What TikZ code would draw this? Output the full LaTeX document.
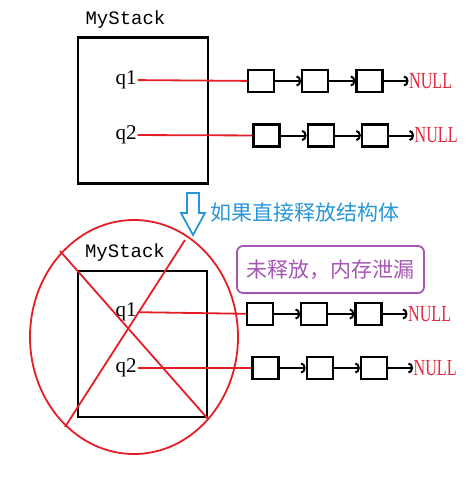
\documentclass[tikz,border=0pt]{standalone}
\usepackage{fontspec}
\setmainfont{Liberation Serif}
\newfontfamily\cjk{Noto Sans CJK SC}
\newfontfamily\stackfont{Liberation Mono}
\newfontfamily\narrowserif[FakeStretch=0.7]{Liberation Serif}
\usetikzlibrary{positioning,arrows.meta}

\definecolor{ptrred}{RGB}{228,30,38}
\definecolor{nullred}{RGB}{226,40,60}
\definecolor{tipblue}{RGB}{40,150,215}
\definecolor{leakpurple}{RGB}{165,85,180}

\begin{document}
\begin{tikzpicture}[
  x=1pt, y=-1pt,
  cell/.style={rectangle, draw, line width=2.2pt, minimum width=26pt, minimum height=22pt, inner sep=0pt},
  stackbox/.style={rectangle, draw, line width=2.4pt, minimum width=130pt, minimum height=146pt},
  title/.style={font=\stackfont\fontsize{19}{19}\selectfont, inner sep=0pt},
  field/.style={font=\fontsize{21}{21}\selectfont, inner sep=1pt},
  nullnode/.style={font=\narrowserif\fontsize{23}{23}\selectfont, text=nullred, inner sep=0.5pt},
  ptr/.style={draw=ptrred, line width=1.8pt},
  link/.style={-{Arc Barb[length=4.5pt,width=11pt]}, line width=2pt},
  node distance=26pt
]
\useasboundingbox (0,0) rectangle (474,480);

% Before: the struct
\node[stackbox] (top) at (143,110.5) {};
\node[title] (toptitle) at (125.5,20) {MyStack};
\node[field] (tq1) at (126,80) {q1};
\node[field] (tq2) at (126,135) {q2};

\node[cell] (a1) at (261,81) {};
\node[cell, right=of a1] (a2) {};
\node[cell, right=of a2] (a3) {};
\node[nullnode, right=25pt of a3] (anull) {NULL};

\node[cell] (b1) at (266.5,135.5) {};
\node[cell, right=of b1] (b2) {};
\node[cell, right=of b2] (b3) {};
\node[nullnode, right=25pt of b3] (bnull) {NULL};

% Pointers
\draw[ptr] (tq1) -- (a1);
\draw[ptr] (tq2) -- (b1);
\draw[link] (a1) -- (a2);
\draw[link] (a2) -- (a3);
\draw[link] (a3) -- (anull);
\draw[link] (b1) -- (b2);
\draw[link] (b2) -- (b3);
\draw[link] (b3) -- (bnull);

% Hollow arrow
\draw[tipblue, line width=1.8pt, line join=miter]
  (187,193) -- (199,193) -- (199,213) -- (205,213) -- (193,235) -- (181,213) -- (187,213) -- cycle;
\node[anchor=west, text=tipblue, font=\cjk\fontsize{21}{21}\selectfont, inner sep=0pt] (why) at (210,213) {如果直接释放结构体};

% After: the struct is freed
\node[stackbox, minimum width=129pt] (bot) at (142.5,344) {};
\node[title] (bottitle) at (125,253) {MyStack};
\node[field] (bq1) at (126,312) {q1};
\node[field] (bq2) at (126,368) {q2};

\node[cell] (c1) at (260,314) {};
\node[cell, right=of c1] (c2) {};
\node[cell, right=of c2] (c3) {};
\node[nullnode, right=25pt of c3] (cnull) {NULL};

\node[cell] (d1) at (265.5,368) {};
\node[cell, right=of d1] (d2) {};
\node[cell, right=of d2] (d3) {};
\node[nullnode, right=25pt of d3] (dnull) {NULL};

\draw[ptr] (bq1) -- (c1);
\draw[ptr] (bq2) -- (d1);
\draw[link] (c1) -- (c2);
\draw[link] (c2) -- (c3);
\draw[link] (c3) -- (cnull);
\draw[link] (d1) -- (d2);
\draw[link] (d2) -- (d3);
\draw[link] (d3) -- (dnull);

% Crossed out
\draw[ptr] (134,337) ellipse [x radius=104pt, y radius=117pt];
\draw[ptr] (60,251) -- (208,419);
\draw[ptr] (185,240) -- (65,427);

% Leak note
\node[rectangle, rounded corners=6pt, draw=leakpurple, line width=1.8pt, minimum width=187pt, minimum height=47pt,
  text=leakpurple, font=\cjk\fontsize{21}{21}\selectfont] (leak) at (330.5,269.5) {未释放，内存泄漏};

\end{tikzpicture}
\end{document}
